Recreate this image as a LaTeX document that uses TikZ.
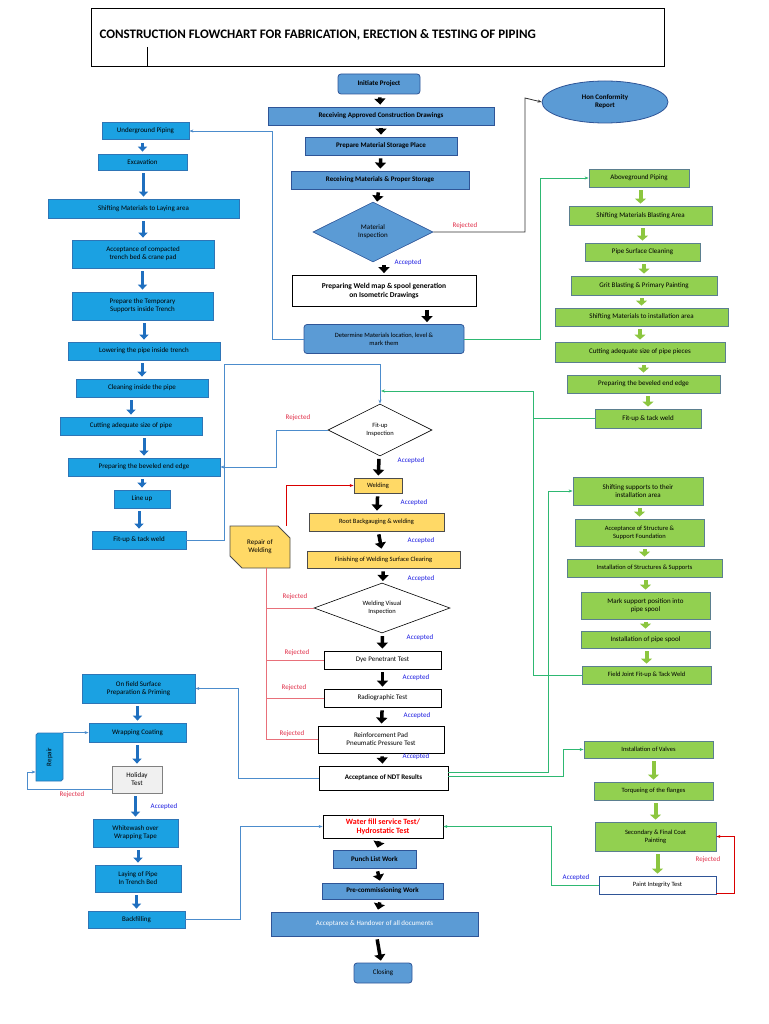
\documentclass[tikz,border=0pt]{standalone}
\usepackage{fontspec}
\setmainfont{Carlito}
\usetikzlibrary{shapes.geometric,shapes.misc,arrows.meta}
\definecolor{cblue}{HTML}{5B9BD5}
\definecolor{cbord}{HTML}{2F5597}
\definecolor{lblue}{HTML}{1BA1E2}
\definecolor{lbord}{HTML}{2E75B6}
\definecolor{dblue}{HTML}{1F6FBF}
\definecolor{cgreen}{HTML}{92D050}
\definecolor{gbord}{HTML}{5B7F8F}
\definecolor{garr}{HTML}{8CC63F}
\definecolor{gline}{HTML}{2EB872}
\definecolor{cyel}{HTML}{FFD966}
\definecolor{rline}{HTML}{E8707A}
\definecolor{rtext}{HTML}{E0304A}
\definecolor{atext}{HTML}{1A1AE0}
\newcommand\sz{\fontsize{7}{8}\selectfont}
\tikzset{
 base/.style={draw, inner sep=1pt, align=center, font=\sz, line width=0.8pt},
 cb/.style={base, fill=cblue, draw=cbord},
 lb/.style={base, fill=lblue, draw=lbord},
 gb/.style={base, fill=cgreen, draw=gbord},
 yb/.style={base, fill=cyel, draw=black!70},
 wb/.style={base, fill=white, draw=black},
 dia/.style={diamond, aspect=2, inner sep=0pt, align=center, font=\sz, draw=black, line width=0.6pt},
 karrow/.style={line width=3.5pt, -{Triangle[length=6pt,width=11pt]}, black, shorten <=3pt, shorten >=2pt},
 barrow/.style={line width=3pt, -{Triangle[length=5pt,width=9pt]}, dblue, shorten <=3pt, shorten >=2pt},
 garrow/.style={line width=4pt, -{Triangle[length=5pt,width=11pt]}, garr, shorten <=3pt, shorten >=2pt},
 thinb/.style={line width=0.8pt, draw=dblue!80, -{Stealth[length=4pt]}},
 thing/.style={line width=0.8pt, draw=gline, -{Stealth[length=4pt]}},
 thinr/.style={line width=0.8pt, draw=rline, -{Stealth[length=4pt]}},
 think/.style={line width=0.8pt, draw=black!80, -{Stealth[length=4pt]}},
 rej/.style={font=\sz, text=rtext},
 acc/.style={font=\sz, text=atext},
}
\begin{document}
\begin{tikzpicture}[x=1pt,y=-1pt]
\useasboundingbox (0,0) rectangle (768,1024);
\draw[line width=0.8pt] (91,8) rectangle (664,66);
\draw[line width=0.8pt] (147,47) -- (147,66);
\node[anchor=west, font=\fontsize{13}{15}\selectfont\bfseries] (title) at (96,35) {CONSTRUCTION FLOWCHART FOR FABRICATION, ERECTION \& TESTING OF PIPING};

% center column
\node[cb, rounded corners=3pt, minimum width=82, minimum height=20] (init) at (379,84) {\textbf{Initiate Project}};
\node[cb, minimum width=226, minimum height=18] (rad) at (381,116) {\textbf{Receiving Approved Construction Drawings}};
\node[cb, minimum width=152, minimum height=18] (pms) at (381,146) {\textbf{Prepare Material Storage Place}};
\node[cb, minimum width=178, minimum height=18] (rms) at (380,180) {\textbf{Receiving Materials \& Proper Storage}};
\node[dia, fill=cblue, draw=cbord, minimum width=120, minimum height=60] (mi) at (373,232) {Material\\Inspection};
\node[wb, minimum width=184, minimum height=31, font=\fontsize{7.5}{9}\selectfont\bfseries] (wm) at (384,291) {Preparing Weld map \& spool generation\\on Isometric Drawings};
\node[cb, rounded corners=3pt, minimum width=160, minimum height=29, font=\fontsize{6.5}{8}\selectfont] (dm) at (384,339) {Determine Materials location, level \&\\mark them};
\node[ellipse, draw=cbord, fill=cblue, line width=0.8pt, minimum width=126, minimum height=42, align=center, font=\sz\bfseries] (ncr) at (605,102) {Hon Conformity\\Report};

% left column
\node[lb, minimum width=87, minimum height=17] (ug) at (145.5,131) {Underground Piping};
\node[lb, minimum width=89, minimum height=16] (ex) at (142.5,162) {Excavation};
\node[lb, minimum width=191, minimum height=19] (sm) at (143.5,208.5) {Shifting Materials to Laying area};
\node[lb, minimum width=142, minimum height=28] (ac) at (143,254) {Acceptance of compacted\\trench bed \& crane pad};
\node[lb, minimum width=141, minimum height=28] (pt) at (142.5,306) {Prepare the Temporary\\Supports inside Trench};
\node[lb, minimum width=152, minimum height=18] (lw) at (144,351) {Lowering the pipe inside trench};
\node[lb, minimum width=132, minimum height=18] (ci) at (142,388) {Cleaning inside the pipe};
\node[lb, minimum width=142, minimum height=18] (cu) at (131,426) {Cutting adequate size of pipe};
\node[lb, minimum width=152, minimum height=18] (pb) at (144,467) {Preparing the beveled end edge};
\node[lb, minimum width=56, minimum height=18] (lu) at (142,499) {Line up};
\node[lb, minimum width=94, minimum height=18] (ft) at (139,540) {Fit-up \& tack weld};

% right top column
\node[gb, minimum width=100, minimum height=18] (ag) at (639,178) {Aboveground Piping};
\node[gb, minimum width=143, minimum height=19] (sb) at (640.5,215.5) {Shifting Materials Blasting Area};
\node[gb, minimum width=115, minimum height=18] (ps) at (642.5,252) {Pipe Surface Cleaning};
\node[gb, minimum width=146, minimum height=19] (gr) at (644,285.5) {Grit Blasting \& Primary Painting};
\node[gb, minimum width=173, minimum height=18] (si) at (641.5,317) {Shifting Materials to installation area};
\node[gb, minimum width=170, minimum height=20] (cp) at (640,352) {Cutting adequate size of pipe pieces};
\node[gb, minimum width=153, minimum height=18] (pe) at (643.5,384) {Preparing the beveled end edge};
\node[gb, minimum width=106, minimum height=19] (fw) at (648,418.5) {Fit-up \& tack weld};

% middle welding section
\node[dia, fill=white, minimum width=104, minimum height=52, font=\fontsize{6.5}{8}\selectfont] (fi) at (380,430) {Fit-up\\Inspection};
\node[yb, minimum width=48, minimum height=15, font=\fontsize{6.5}{8}\selectfont] (we) at (378,485.5) {Welding};
\node[yb, minimum width=135, minimum height=18, font=\fontsize{6.5}{8}\selectfont] (rb) at (376.5,522) {Root Backgauging \& welding};
\node[yb, minimum width=153, minimum height=17, font=\fontsize{6.5}{8}\selectfont] (fs) at (383.5,559.5) {Finishing of Welding Surface Clearing};
\node[yb, chamfered rectangle, chamfered rectangle corners={north east,south west}, chamfered rectangle xsep=6pt, chamfered rectangle ysep=6pt, minimum width=60, minimum height=42] (rw) at (260,547) {Repair of\\Welding};
\node[dia, fill=white, minimum width=136, minimum height=50, font=\fontsize{6.5}{8}\selectfont] (wv) at (382,608) {Welding Visual\\Inspection};
\node[wb, minimum width=117, minimum height=18] (dp) at (382.5,660) {Dye Penetrant Test};
\node[wb, minimum width=117, minimum height=18] (rt) at (382.5,698) {Radiographic Test};
\node[wb, minimum width=126, minimum height=27] (rp) at (381,739.5) {Reinforcement Pad\\Pneumatic Pressure Test};
\node[wb, minimum width=129, minimum height=24, font=\sz\bfseries] (ndt) at (383.5,778) {Acceptance of NDT Results};

% right lower column
\node[gb, minimum width=130, minimum height=28] (ss) at (638,491) {Shifting supports to their\\installation area};
\node[gb, minimum width=129, minimum height=27, font=\fontsize{6.5}{8}\selectfont] (as) at (639.5,532.5) {Acceptance of Structure \&\\Support Foundation};
\node[gb, minimum width=155, minimum height=18, font=\fontsize{6.5}{8}\selectfont] (is) at (644.5,568) {Installation of Structures \& Supports};
\node[gb, minimum width=129, minimum height=27] (mp) at (645.5,605.5) {Mark support position into\\pipe spool};
\node[gb, minimum width=129, minimum height=17] (ip) at (645.5,639.5) {Installation of pipe spool};
\node[gb, minimum width=129, minimum height=18, font=\fontsize{6.5}{8}\selectfont] (fj) at (646.5,675) {Field Joint Fit-up \& Tack Weld};
\node[gb, minimum width=129, minimum height=17, font=\fontsize{6.5}{8}\selectfont] (iv) at (648.5,749.5) {Installation of Valves};
\node[gb, minimum width=119, minimum height=18, font=\fontsize{6.5}{8}\selectfont] (tf) at (653.5,791) {Torqueing of the flanges};
\node[gb, minimum width=121, minimum height=29, font=\fontsize{6.5}{8}\selectfont] (sf) at (655.5,836.5) {Secondary \& Final Coat\\Painting};
\node[wb, draw=cbord, minimum width=117, minimum height=18, font=\fontsize{6.5}{8}\selectfont] (pi) at (657.5,885) {Paint Integrity Test};

% bottom left
\node[lb, minimum width=113, minimum height=29] (of) at (138.5,688.5) {On field Surface\\Preparation \& Priming};
\node[lb, minimum width=97, minimum height=19] (wc) at (137.5,732.5) {Wrapping Coating};
\node[lb, chamfered rectangle, chamfered rectangle corners={north west,south east}, chamfered rectangle xsep=4pt, chamfered rectangle ysep=4pt, minimum width=27, minimum height=48] (rep) at (49.5,757) {};
\node[font=\sz, rotate=90] (reptxt) at (rep.center) {Repair};
\node[base, fill=black!6, draw=black!50, minimum width=50, minimum height=27] (ht) at (137,779.5) {Holiday\\Test};
\node[lb, minimum width=85, minimum height=28] (ww) at (135.5,833) {Whitewash over\\Wrapping Tape};
\node[lb, minimum width=86, minimum height=27] (lp) at (138,878.5) {Laying of Pipe\\In Trench Bed};
\node[lb, minimum width=97, minimum height=17] (bf) at (136.5,919.5) {Backfilling};

% bottom center
\node[wb, minimum width=120, minimum height=23, font=\fontsize{8}{9}\selectfont\bfseries, text=red] (wf) at (383,826.5) {Water fill service Test/\\Hydrostatic Test};
\node[cb, minimum width=83, minimum height=18] (pl) at (374.5,859) {\textbf{Punch List Work}};
\node[cb, minimum width=121, minimum height=16] (pc) at (382.5,891) {\textbf{Pre-commissioning Work}};
\node[cb, minimum width=207, minimum height=24, text=white] (ah) at (374.5,924) {Acceptance \& Handover of all documents};
\node[cb, rounded corners=3pt, minimum width=58, minimum height=20] (cl) at (383,973) {Closing};

% center arrows
\draw[karrow] (init) -- (rad);
\draw[karrow] (rad) -- (pms);
\draw[karrow] (pms) -- (rms);
\draw[karrow] (rms) -- (mi);
\draw[karrow] (wm.north |- mi.south) -- (wm.north);
\draw[karrow] ([xshift=43]wm.south) -- ([xshift=43]wm.south |- dm.north);
\draw[karrow] (fi) -- (we);
\draw[karrow] (we) -- (rb);
\draw[karrow] (rb) -- (fs);
\draw[karrow] (fs) -- (wv);
\draw[karrow] (wv) -- (dp);
\draw[karrow] (dp) -- (rt);
\draw[karrow] (rt) -- (rp);
\draw[karrow] (rp) -- (ndt);
\draw[karrow] (wf) -- (pl);
\draw[karrow] (pl) -- (pc);
\draw[karrow] (pc) -- (ah);
\draw[karrow] (ah) -- (cl);

% left arrows
\foreach \a/\b in {ug/ex,ex/sm,sm/ac,ac/pt,pt/lw,lw/ci,ci/cu,cu/pb,pb/lu,lu/ft,of/wc,wc/ht,ht/ww,ww/lp,lp/bf}
  \draw[barrow] (\a.south -| \b.north) -- (\b.north);
% green arrows
\foreach \a/\b in {ag/sb,sb/ps,ps/gr,gr/si,si/cp,cp/pe,pe/fw,ss/as,as/is,is/mp,mp/ip,ip/fj,iv/tf,tf/sf,sf/pi}
  \draw[garrow] (\a.south -| \b.north) -- (\b.north);

% thin connectors
\coordinate (c1) at (272,131);
\draw[thinb] (dm.west) -| (c1) -- (ug.east);
\coordinate (c2) at (540,178);
\draw[thing] (dm.east) -| (c2) -- (ag.west);
\coordinate (c3) at (525,98);
\draw[think] (mi.east) -| (c3) -- (ncr.west);
\coordinate (c4) at (224,364);
\coordinate (c5) at (380,364);
\draw[thinb] (ft.east) -| (c4) -- (c5) -- (fi.north);
\coordinate (c6) at (533,391);
\coordinate (c6b) at (381,391);
\draw[thing] (fw.west) -| (c6) -- (c6b);
\draw[line width=0.8pt, gline] (fj.west) -| (c6);
\coordinate (c7) at (276,430);
\draw[thinb] (fi.west) -- (c7) |- (pb.east);
\draw[line width=0.8pt, draw=red!85!black, -{Stealth[length=4pt]}] ([xshift=26]rw.north) |- (we.west);
\coordinate (r0) at (266,568);
\draw[line width=0.8pt, rline] (r0) |- (rp.west);
\draw[line width=0.8pt, rline] (wv.west) -- (wv.west -| r0);
\draw[line width=0.8pt, rline] (dp.west) -- (dp.west -| r0);
\draw[line width=0.8pt, rline] (rt.west) -- (rt.west -| r0);
\coordinate (c8) at (238,688.5);
\draw[thinb] (ndt.west) -| (c8) -- (of.east);
\coordinate (c9) at (548,491);
\draw[thing] ([yshift=6]ndt.east) -| (c9) -- (ss.west);
\coordinate (c10) at (563,749.5);
\draw[thing] ([yshift=2]ndt.east) -| (c10) -- (iv.west);
\coordinate (c11) at (27,772);
\draw[thinb] ([yshift=-10]ht.west) -| (c11) -- (c11 -| rep.west);
\draw[thinb] (rep.north east) -- (rep.north east -| wc.west);
\coordinate (c12) at (240,826.5);
\draw[thinb] (bf.east) -| (c12) -- (wf.west);
\coordinate (c13) at (734,836.5);
\draw[line width=0.8pt, draw=red!85!black, -{Stealth[length=4pt]}] ([yshift=-8]pi.east) -| (c13) -- (sf.east);
\coordinate (c14) at (551,826.5);
\draw[thing] (pi.west) -| (c14) -- (wf.east);

% labels
\node[rej] (l1) at (465,226) {Rejected};
\node[acc] (l2) at (408,263) {Accepted};
\node[rej] (l3) at (298,418) {Rejected};
\node[acc] (l4) at (411,461) {Accepted};
\node[acc] (l5) at (414,503) {Accepted};
\node[acc] (l6) at (421,541) {Accepted};
\node[acc] (l7) at (421,579) {Accepted};
\node[rej] (l8) at (295,597) {Rejected};
\node[acc] (l9) at (420,638) {Accepted};
\node[rej] (l10) at (297,653) {Rejected};
\node[acc] (l11) at (416,678) {Accepted};
\node[rej] (l12) at (294,688) {Rejected};
\node[acc] (l13) at (417,716) {Accepted};
\node[rej] (l14) at (292,734) {Rejected};
\node[acc] (l15) at (416,757) {Accepted};
\node[rej] (l16) at (72,795) {Rejected};
\node[acc] (l17) at (164,807) {Accepted};
\node[rej] (l18) at (708,860) {Rejected};
\node[acc] (l19) at (576,878) {Accepted};
\end{tikzpicture}
\end{document}
